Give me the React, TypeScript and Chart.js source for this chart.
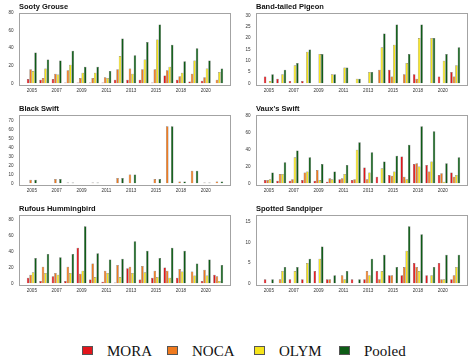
import React, { useEffect, useRef } from 'react';
import { Chart, registerables } from 'chart.js';
Chart.register(...registerables);

const years = ['2005', '2006', '2007', '2008', '2009', '2010', '2011', '2012', '2013', '2014', '2015', '2017', '2018', '2019', '2020', '2021'];
const seriesNames = ['MORA', 'NOCA', 'OLYM', 'Pooled'];
const seriesColors = ['#e3151b', '#f07a1e', '#f6e41a', '#0d5c16'];

const sootyMORA = [5, 4, 5, 1, 1, 1, 1, 4, 4, 4, 1, 9, 4, 2, 3, 0];
const sootyNOCA = [16, 6, 11, 15, 6, 6, 7, 16, 17, 16, 16, 15, 8, 11, 7, 4];
const sootyOLYM = [14, 17, 10, 21, 12, 12, 6, 31, 11, 27, 50, 19, 12, 26, 17, 13];
const sootyPooled = [35, 27, 26, 37, 19, 19, 14, 51, 32, 47, 67, 44, 25, 40, 26, 17];

const pigeonMORA = [3, 2, 1, 1, 0, 0, 0, 0, 0, 0, 6, 0, 4, 0, 3, 5];
const pigeonNOCA = [0, 0, 0, 0, 0, 0, 0, 0, 0, 6, 3, 4, 2, 0, 0, 3];
const pigeonOLYM = [1, 4, 8, 14, 13, 4, 7, 2, 5, 16, 17, 9, 20, 20, 10, 8];
const pigeonPooled = [4, 6, 9, 15, 13, 4, 7, 2, 5, 22, 26, 13, 26, 20, 13, 16];

const bswiftMORA = [0, 0, 0, 0, 0, 0, 0, 0, 0, 0, 0, 0, 0, 0, 0, 0];
const bswiftNOCA = [4, 0, 5, 1, 0, 1, 0, 6, 10, 0, 5, 64, 2, 14, 1, 2];
const bswiftOLYM = [0, 0, 0, 0, 0, 0, 0, 0, 0, 0, 0, 0, 0, 0, 0, 0];
const bswiftPooled = [4, 0, 5, 1, 0, 1, 0, 6, 10, 0, 5, 64, 2, 14, 1, 2];

const vauxMORA = [4, 3, 3, 4, 3, 2, 5, 4, 19, 8, 10, 32, 23, 22, 10, 13];
const vauxNOCA = [4, 11, 5, 13, 16, 6, 6, 5, 5, 0, 9, 8, 24, 14, 12, 8];
const vauxOLYM = [5, 11, 31, 14, 4, 5, 11, 40, 13, 18, 14, 5, 20, 26, 2, 10];
const vauxPooled = [13, 25, 39, 31, 23, 14, 22, 49, 37, 26, 33, 46, 68, 62, 24, 31];

const rufousMORA = [7, 3, 9, 3, 45, 5, 2, 1, 19, 5, 7, 20, 7, 0, 3, 11];
const rufousNOCA = [11, 21, 13, 21, 12, 25, 16, 23, 21, 22, 16, 16, 18, 15, 17, 9];
const rufousOLYM = [14, 13, 11, 13, 16, 8, 13, 8, 13, 14, 8, 7, 15, 10, 10, 3];
const rufousPooled = [32, 37, 33, 37, 72, 38, 30, 31, 53, 41, 32, 45, 41, 25, 30, 23];

const sandMORA = [1, 0, 1, 1, 3, 1, 0, 1, 1, 3, 2, 2, 5, 2, 5, 1];
const sandNOCA = [0, 1, 0, 0, 0, 1, 2, 0, 3, 1, 2, 4, 4, 0, 1, 2];
const sandOLYM = [0, 3, 3, 5, 6, 0, 1, 0, 2, 3, 0, 8, 3, 2, 1, 4];
const sandPooled = [1, 4, 4, 6, 9, 2, 3, 1, 6, 7, 4, 14, 12, 4, 7, 7];

const tickFont = { family: '"Liberation Sans", Arial, sans-serif', size: 4.6 };

type PanelProps = {
  title: string;
  series: number[][];
  step: number;
  left: number;
  top: number;
  padTop: number;
};

function Panel({ title, series, step, left, top, padTop }: PanelProps) {
  const ref = useRef<HTMLCanvasElement>(null);
  useEffect(() => {
    if (!ref.current) return;
    const n = years.length;
    const span = n - 1 + 0.8;
    const xMin = -0.4 - 0.04 * span;
    const xMax = n - 1 + 0.4 + 0.04 * span;
    const allVals = series.flat();
    const M = 1.15 * Math.max(...allVals);
    const yMin = -0.04 * M;
    const yMax = 1.04 * M;

    const boxPlugin = {
      id: 'panelBox',
      afterDraw(chart: any) {
        const { ctx, chartArea: a } = chart;
        ctx.save();
        ctx.strokeStyle = '#a3a3a3';
        ctx.lineWidth = 1;
        ctx.strokeRect(Math.round(a.left) + 0.5, Math.round(a.top) + 0.5, Math.round(a.right - a.left) - 1, Math.round(a.bottom - a.top) - 1);
        ctx.fillStyle = '#111';
        ctx.font = 'bold 7.5px "Liberation Sans", Arial, sans-serif';
        ctx.textBaseline = 'alphabetic';
        ctx.textAlign = 'left';
        ctx.fillText(title, a.left, a.top - 4.5);
        ctx.restore();
      },
    };

    const chart = new Chart(ref.current, {
      type: 'bar',
      data: {
        datasets: series.map((vals, k) => ({
          label: seriesNames[k],
          data: vals.map((v, i) => ({ x: i, y: v })),
          backgroundColor: seriesColors[k],
          borderColor: 'rgba(40,40,40,0.75)',
          borderWidth: 0.5,
          categoryPercentage: 0.8,
          barPercentage: 1,
        })),
      },
      options: {
        responsive: false,
        animation: false,
        devicePixelRatio: 1,
        layout: { padding: { top: padTop, right: 6, left: 0, bottom: 0 } },
        plugins: {
          legend: { display: false },
          tooltip: { enabled: false },
          title: { display: false },
        },
        scales: {
          x: {
            type: 'linear',
            min: xMin,
            max: xMax,
            offset: false,
            grid: { display: false, drawTicks: false, offset: false },
            border: { display: false },
            afterBuildTicks: (s: any) => {
              s.ticks = years.map((_, i) => ({ value: i })).filter((t) => t.value % 2 === 0);
            },
            ticks: {
              callback: (v: any) => years[v as number],
              font: tickFont,
              color: '#333',
              padding: 2.3,
              maxRotation: 0,
              autoSkip: false,
            },
            afterFit: (s: any) => {
              s.height = 14;
            },
          },
          y: {
            type: 'linear',
            min: yMin,
            max: yMax,
            grid: { display: false, drawTicks: false },
            border: { display: false },
            afterBuildTicks: (s: any) => {
              const t: { value: number }[] = [];
              for (let v = 0; v <= yMax; v += step) t.push({ value: v });
              s.ticks = t;
            },
            ticks: { font: tickFont, color: '#333', padding: 5.5 },
            afterFit: (s: any) => {
              s.width = 19;
            },
          },
        },
      } as any,
      plugins: [boxPlugin],
    });
    return () => chart.destroy();
  }, [title, series, step, padTop]);

  return (
    <canvas
      ref={ref}
      width={237}
      height={100}
      style={{ position: 'absolute', left, top, width: 237, height: 100, display: 'block' }}
    />
  );
}

const panels = [
  { title: 'Sooty Grouse', series: [sootyMORA, sootyNOCA, sootyOLYM, sootyPooled], step: 20 },
  { title: 'Band-tailed Pigeon', series: [pigeonMORA, pigeonNOCA, pigeonOLYM, pigeonPooled], step: 5 },
  { title: 'Black Swift', series: [bswiftMORA, bswiftNOCA, bswiftOLYM, bswiftPooled], step: 10 },
  { title: "Vaux's Swift", series: [vauxMORA, vauxNOCA, vauxOLYM, vauxPooled], step: 20 },
  { title: 'Rufous Hummingbird', series: [rufousMORA, rufousNOCA, rufousOLYM, rufousPooled], step: 20 },
  { title: 'Spotted Sandpiper', series: [sandMORA, sandNOCA, sandOLYM, sandPooled], step: 5 },
];

const legendLeft = [82, 167, 254, 339];

export default function App() {
  return (
    <div style={{ position: 'absolute', left: 0, top: 0, width: 474, height: 360, background: '#fff', overflow: 'hidden' }}>
      {panels.map((p, i) => (
        <Panel
          key={p.title}
          title={p.title}
          series={p.series}
          step={p.step}
          left={(i % 2) * 237}
          top={Math.floor(i / 2) * 100}
          padTop={i < 2 ? 13 : 15}
        />
      ))}
      {seriesNames.map((name, k) => (
        <div key={name}>
          <div
            style={{
              position: 'absolute',
              left: legendLeft[k],
              top: 346,
              width: 11,
              height: 9,
              boxSizing: 'border-box',
              background: seriesColors[k],
              border: '1px solid #555',
            }}
          />
          <span
            style={{
              position: 'absolute',
              left: legendLeft[k] + 25,
              top: 343.5,
              fontFamily: '"Liberation Serif", "Times New Roman", serif',
              fontSize: 15,
              lineHeight: '15px',
              color: '#111',
              whiteSpace: 'nowrap',
            }}
          >
            {name}
          </span>
        </div>
      ))}
    </div>
  );
}
